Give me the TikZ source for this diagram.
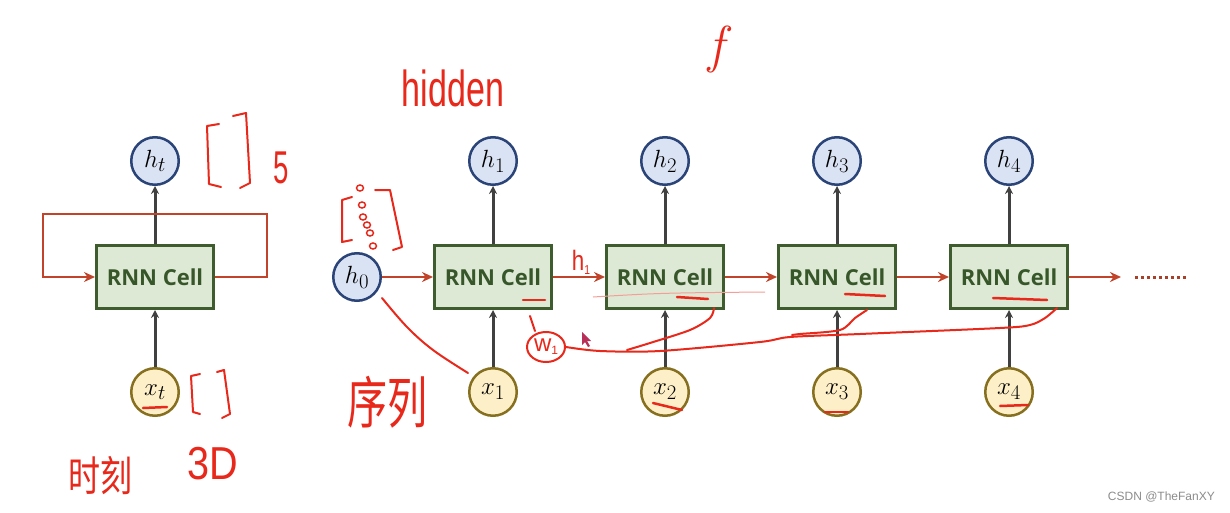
\documentclass[tikz,border=0pt]{standalone}
\usepackage{fontspec}
\usepackage{graphicx}
\newfontfamily\cellfont{Open Sans}
\newfontfamily\handfont{Liberation Sans}
\newfontfamily\cjk{Noto Sans CJK SC}
\usetikzlibrary{arrows.meta,shapes.geometric}
\definecolor{cellfill}{HTML}{DDE9D4}
\definecolor{cellborder}{HTML}{3E5C2E}
\definecolor{celltext}{HTML}{37572A}
\definecolor{hfill}{HTML}{DAE3F3}
\definecolor{hborder}{HTML}{2A4478}
\definecolor{xfill}{HTML}{FDF0C8}
\definecolor{xborder}{HTML}{86701F}
\definecolor{garrow}{HTML}{404040}
\definecolor{rarrow}{HTML}{C0432A}
\definecolor{dotc}{HTML}{A8402A}
\definecolor{annred}{HTML}{E8281A}
\definecolor{cursorc}{HTML}{B8305A}
\tikzset{
  cell/.style={draw=cellborder, fill=cellfill, line width=3pt, minimum width=117pt,
    minimum height=63pt, inner sep=0pt, text=celltext,
    font=\cellfont\bfseries\fontsize{22}{24}\selectfont},
  hnode/.style={circle, draw=hborder, fill=hfill, line width=2.5pt, minimum size=47.5pt,
    inner sep=0pt, font=\fontsize{24.88}{28}\selectfont},
  xnode/.style={circle, draw=xborder, fill=xfill, line width=2.5pt, minimum size=47.5pt,
    inner sep=0pt, font=\fontsize{24.88}{28}\selectfont},
  garr/.style={draw=garrow, line width=3pt, -{Stealth[length=8pt,width=8pt]}},
  rarr/.style={draw=rarrow, line width=2.8pt, -{Stealth[length=11pt,width=10pt]}},
  ann/.style={draw=annred, line width=2pt, line cap=round, line join=round},
  hand/.style={text=annred, inner sep=0pt},
}
\begin{document}
\begin{tikzpicture}[x=1pt,y=-1pt]
\useasboundingbox (0,0) rectangle (1230,513);
\fill[white] (0,0) rectangle (1230,513);

% ---------- folded RNN ----------
\node[hnode] (ht) at (155,161) {$h_t$};
\node[cell] (ct) at (155,277) {RNN Cell};
\node[xnode] (xt) at (155,392) {$x_t$};
\coordinate (lt) at (43,214);
\coordinate (rt) at (267,214);
\draw[garr] (ct) -- (ht);
\draw[garr] (xt) -- (ct);
\draw[rarr] (ct.east) -| (rt) -| (lt) |- (ct.west);

% ---------- unrolled RNN ----------
\node[hnode] (h0) at (357,277) {$h_0$};
\foreach \i/\x in {1/493,2/665,3/837,4/1009}{
  \node[hnode] (h\i) at (\x,161) {$h_{\i}$};
  \node[cell]  (c\i) at (\x,277) {RNN Cell};
  \node[xnode] (x\i) at (\x,392) {$x_{\i}$};
  \draw[garr] (c\i) -- (h\i);
  \draw[garr] (x\i) -- (c\i);
}
\draw[rarr] (h0) -- (c1);
\draw[rarr] (c1) -- (c2);
\draw[rarr] (c2) -- (c3);
\draw[rarr] (c3) -- (c4);
\coordinate (endarr) at (1121,277);
\draw[rarr] (c4.east) -- (endarr);
\coordinate (d1) at (1135,277);
\coordinate (d2) at (1187,277);
\draw[draw=dotc, line width=3pt, dash pattern=on 3pt off 3pt] (d1) -- (d2);

% watermark
\node[anchor=east, text=black!45, inner sep=0pt, font=\handfont\fontsize{12}{14}\selectfont] (wm) at (1215,497) {CSDN @TheFanXY};

% ---------- handwritten annotations ----------
\node[hand, font=\handfont\fontsize{46}{46}\selectfont] (hid) at (453,88) {\scalebox{0.74}[1.1]{hidden}};
\node[hand, font=\fontsize{52}{52}\selectfont\itshape] (ff) at (716,50) {f};
\node[hand, font=\handfont\fontsize{46}{46}\selectfont] (five) at (281,168) {\scalebox{0.6}[1]{5}};
\node[hand, font=\handfont\fontsize{44}{44}\selectfont] (threed) at (213,464) {\scalebox{0.9}[1.05]{3D}};
\node[hand, font=\cjk\fontsize{32}{32}\selectfont] (shike) at (100,476) {\scalebox{1}[1.3]{时刻}};
\node[hand, font=\cjk\fontsize{40}{40}\selectfont] (xulie) at (387,402) {\scalebox{1}[1.4]{序列}};
\node[hand, font=\handfont\fontsize{28}{28}\selectfont] (hone) at (581,262) {\scalebox{0.8}[1]{h\raisebox{-4pt}{\fontsize{13}{13}\selectfont 1}}};
\node[ellipse, draw=annred, line width=2pt, minimum width=38pt, minimum height=30pt, inner sep=0pt,
      text=annred, font=\handfont\fontsize{24}{24}\selectfont] (w1) at (546,347) {w\raisebox{-3pt}{\fontsize{12}{12}\selectfont 1}};
\draw[ann] (530,316) -- (535,331);

% brackets
\draw[ann] (219,124) -- (207,126) -- (209,184) -- (221,187);
\draw[ann] (233,116) -- (246,113) -- (250,183) -- (240,188);
\draw[ann] (200,374) -- (191,376) -- (193,412) -- (200,414);
\draw[ann] (217,372) -- (224,370) -- (230,414) -- (222,418);
\draw[ann] (352,197) -- (342,200) -- (342,242) -- (352,240);
\draw[ann] (375,190) -- (390,190) -- (402,247) -- (393,250);
\foreach \p in {(360,188),(362,205),(363,217),(367,225),(370,233),(373,246)}
  \draw[draw=annred, line width=1.5pt] \p ellipse [x radius=3.5, y radius=3];

% underlines
\draw[ann, line width=2.5pt] (143,408) -- (167,407);
\draw[ann, line width=2.5pt] (523,300) -- (545,300);
\draw[ann, line width=2.5pt] (677,297) -- (708,299);
\draw[ann, line width=2.5pt] (845,294) -- (885,296);
\draw[ann, line width=2.5pt] (993,298) -- (1047,300);
\draw[ann, line width=2.5pt] (653,403) -- (682,410);
\draw[ann, line width=2.5pt] (825,412) -- (848,412);
\draw[ann, line width=2.5pt] (1000,406) -- (1028,405);

% faint stroke across the second cell
\draw[draw=annred!45, line width=1pt] (593,297) .. controls (660,293) .. (765,292);

% strokes
\draw[ann] plot[smooth, tension=0.6] coordinates {(382,298) (407,327) (433,350) (468,373)};
\draw[ann] plot[smooth, tension=0.5] coordinates {(w1.east) (600,351) (660,351) (760,342) (790,337) (860,334) (1000,328) (1030,325) (1045,318) (1057,308)};
\draw[ann] plot[smooth, tension=0.5] coordinates {(714,308) (710,318) (690,330) (650,343) (627,350)};
\draw[ann] plot[smooth, tension=0.5] coordinates {(867,310) (855,318) (840,330) (800,334) (792,335)};

% mouse cursor
\fill[cursorc] (582,332) -- (582,345) -- (585,342) -- (588,347) -- (590,346) -- (587,341) -- (591,341) -- cycle;
\end{tikzpicture}
\end{document}
